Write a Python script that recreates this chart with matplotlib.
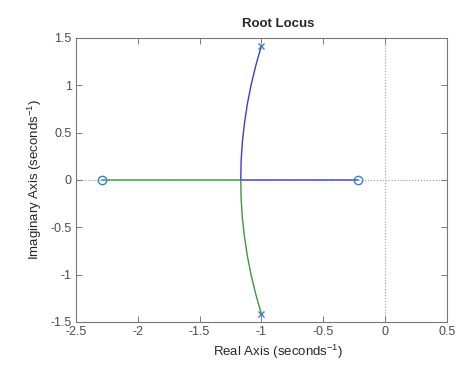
import matplotlib
matplotlib.use("Agg")
import matplotlib.pyplot as plt

plt.rcParams['font.family'] = ['Liberation Sans', 'DejaVu Sans']
plt.rcParams['mathtext.fontset'] = 'custom'
plt.rcParams['mathtext.rm'] = 'Liberation Sans'
plt.rcParams['mathtext.it'] = 'Liberation Sans'

# poles and zeros
pole_re = [-1.0, -1.0]
pole_im = [1.414, -1.414]
zero_re = [-2.29, -0.22]
zero_im = [0.0, 0.0]

# upper branch (blue): pole -> breakaway -> right zero
blue_re = [-1.000, -1.026, -1.047, -1.084, -1.114, -1.137, -1.154, -1.164, -1.167, -0.22]
blue_im = [1.414, 1.3, 1.2, 1.0, 0.8, 0.6, 0.4, 0.2, 0.0, 0.0]
# lower branch (green): pole -> breakaway -> left zero
green_re = [-1.000, -1.026, -1.047, -1.084, -1.114, -1.137, -1.154, -1.164, -1.167, -2.29]
green_im = [-1.414, -1.3, -1.2, -1.0, -0.8, -0.6, -0.4, -0.2, 0.0, 0.0]

xticks = [-2.5, -2, -1.5, -1, -0.5, 0, 0.5]
yticks = [-1.5, -1, -0.5, 0, 0.5, 1, 1.5]

fig = plt.figure(figsize=(4.74, 3.65), dpi=100)
ax = fig.add_axes([0.160, 0.118, 0.783, 0.778])

gray = '#262626'
ax.axhline(0, color='#999999', ls=':', lw=0.8, zorder=0)
ax.axvline(0, color='#999999', ls=':', lw=0.8, zorder=0)

ax.plot(blue_re, blue_im, color='#3b3bdb', lw=1.0)
ax.plot(green_re, green_im, color='#3a9a3a', lw=1.0)
ax.plot(pole_re, pole_im, 'x', color='#3d7fc4', ms=5, mew=1.0)
ax.plot(zero_re, zero_im, 'o', mfc='none', mec='#3d7fc4', ms=6, mew=1.0)

ax.set_xlim(-2.5, 0.5)
ax.set_ylim(-1.5, 1.5)
ax.set_xticks(xticks)
ax.set_yticks(yticks)
ax.set_xticklabels(['-2.5', '-2', '-1.5', '-1', '-0.5', '0', '0.5'])
ax.set_yticklabels(['-1.5', '-1', '-0.5', '0', '0.5', '1', '1.5'])
ax.tick_params(direction='in', top=True, right=True, length=4, width=0.6,
               colors='#666666', labelcolor='#4d4d4d', labelsize=9, pad=3)
for s in ax.spines.values():
    s.set_color('#777777')
    s.set_linewidth(0.8)

ax.set_title('Root Locus', fontsize=9.5, fontweight='bold', color=gray, x=0.545, pad=8)
ax.set_xlabel('Real Axis (seconds$^{\\mathregular{-1}}$)', fontsize=9.5, color=gray)
ax.xaxis.set_label_coords(0.545, -0.075)
ax.set_ylabel('Imaginary Axis (seconds$^{\\mathregular{-1}}$)', fontsize=9.5, color=gray)
ax.yaxis.set_label_coords(-0.085, 0.5)

fig.savefig('out.png', dpi=100)
